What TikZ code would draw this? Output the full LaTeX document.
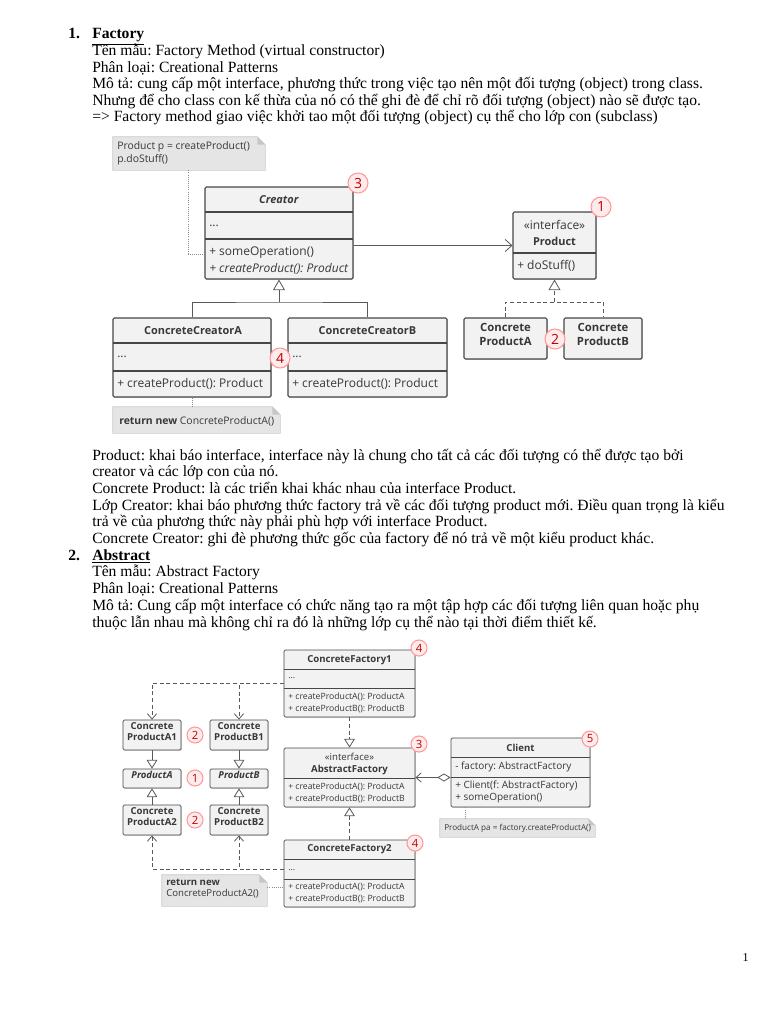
\documentclass[tikz,border=0pt]{standalone}
\usepackage{fontspec}
\setmainfont{Liberation Serif}
\newfontfamily\umlfont{Open Sans}
\usetikzlibrary{arrows.meta, fit, shadows, positioning}
\frenchspacing

\begin{document}
\begin{tikzpicture}[x=0.75pt, y=-0.75pt,
    txt/.style={anchor=base west, inner sep=0pt, font=\fontsize{11.7}{13}\selectfont},
    cls/.style={draw=black!72, fill=black!5, line width=0.8pt, rounded corners=1pt, inner sep=0pt,
        drop shadow={shadow xshift=0.7pt, shadow yshift=-0.7pt, fill=black!30, opacity=0.5}},
    cls2/.style={cls, line width=0.6pt},
    sep/.style={draw=black!72, line width=0.8pt},
    sep2/.style={draw=black!72, line width=0.6pt},
    ua/.style={inner sep=0pt, text=black!78, font=\umlfont\fontsize{9}{11}\selectfont},
    uah/.style={inner sep=0pt, text=black!78, font=\umlfont\fontsize{8.2}{10.5}\selectfont},
    un/.style={inner sep=0pt, text=black!78, font=\umlfont\fontsize{7.8}{10}\selectfont},
    ub/.style={inner sep=0pt, text=black!78, font=\umlfont\fontsize{6.5}{7.5}\selectfont},
    ubh/.style={inner sep=0pt, text=black!78, font=\umlfont\fontsize{7.2}{8}\selectfont},
    uc/.style={inner sep=0pt, text=black!78, font=\umlfont\fontsize{7.5}{8.5}\selectfont},
    notebg/.style={fill=black!10, draw=black!20, line width=0.4pt},
    notefold/.style={fill=black!22},
    nline/.style={draw=black!45, densely dotted, line width=0.6pt},
    dline/.style={draw=black!65, dash pattern=on 3pt off 2pt, line width=0.6pt},
    cline/.style={draw=black!65, line width=0.6pt},
    inh/.style={-{Triangle[open, length=8pt, width=9pt]}},
    inhs/.style={-{Triangle[open, length=6.5pt, width=8pt]}},
    vee/.style={-{Straight Barb[length=4pt, width=7pt]}},
    agg/.style={{Diamond[open, length=10pt, width=6pt]}-{Straight Barb[length=4pt, width=7pt]}},
    badge/.style={circle, draw=red!40, fill=red!8, line width=0.8pt, text=red!75!black, inner sep=0pt,
        minimum size=15pt, font=\umlfont\fontsize{10.5}{10}\selectfont},
    badges/.style={badge, minimum size=12pt, font=\umlfont\fontsize{8.5}{9}\selectfont}
]
\fill[white] (0,0) rectangle (768,1024);
\useasboundingbox (0,0) rectangle (768,1024);

% section 1 text
\node[txt] (num1) at (68,39) {\textbf{1.}};
\node[txt] (head1) at (92,39) {\underline{\textbf{Factory}}};
\foreach \txtline [count=\i from 0] in {{Tên mẫu: Factory Method (virtual constructor)},
    {Phân loại: Creational Patterns},
    {Mô tả: cung cấp một interface, phương thức trong việc tạo nên một đối tượng (object) trong class.},
    {Nhưng để cho class con kế thừa của nó có thể ghi đè để chỉ rõ đối tượng (object) nào sẽ được tạo.},
    {=> Factory method giao việc khởi tao một đối tượng (object) cụ thể cho lớp con (subclass)}}
  \node[txt] (a\i) at (92,55.6+16.6*\i) {\txtline};

% factory method diagram
\node[fit={(113,137) (265,170)}, inner sep=0pt] (noteC) {};
\fill[notebg] (noteC.north west) -- ([xshift=-6pt]noteC.north east) -- ([yshift=-6pt]noteC.north east)
    -- (noteC.south east) -- (noteC.south west) -- cycle;
\fill[notefold] ([xshift=-6pt]noteC.north east) -- ([xshift=-6pt,yshift=-6pt]noteC.north east) -- ([yshift=-6pt]noteC.north east) -- cycle;
\node[un, anchor=north west, align=left] (noteCt) at (117,141) {Product p = createProduct()\\p.doStuff()};

\node[cls, fit={(205,187) (353,279)}] (creator) {};
\draw[sep] (205,212) -- (353,212) (205,239) -- (353,239);
\node[uah] (creatorT) at (279,200) {\textbf{\textit{Creator}}};
\node[ua, anchor=west] (creatorF) at (209,226) {...};
\node[ua, anchor=west] (creatorM1) at (209,253) {+ someOperation()};
\node[ua, anchor=west] (creatorM2) at (209,269) {\textit{+ createProduct(): Product}};

\coordinate (cbend) at (188,254);
\draw[nline] (noteC.south -| cbend) -- (cbend) -- (creator.west |- cbend);

\node[cls, fit={(513,212) (596,279)}] (product) {};
\draw[sep] (513,253) -- (596,253);
\node[ua] (productS) at (554.5,225) {«interface»};
\node[uah] (productT) at (554.5,241) {\textbf{Product}};
\node[ua, anchor=west] (productM) at (517,266) {+ doStuff()};

\draw[cline, -{Straight Barb[length=5pt, width=9pt]}] (creator.east |- product.west) -- (product.west);

\node[cls, fit={(464,318) (547,359)}, align=center, font=\umlfont\fontsize{8.5}{11}\selectfont, text=black!78] (cpA) {\textbf{Concrete}\\\textbf{ProductA}};
\node[cls, fit={(564,318) (642,359)}, align=center, font=\umlfont\fontsize{8.5}{11}\selectfont, text=black!78] (cpB) {\textbf{Concrete}\\\textbf{ProductB}};
\coordinate (jP) at (554.5,302);
\draw[dline] (cpA.north) |- (jP) -| (cpB.north);
\draw[dline, inh] (jP) -- (product.south);

\node[cls, fit={(113,318) (271,397)}] (ccA) {};
\draw[sep] (113,343) -- (271,343) (113,371) -- (271,371);
\node[uah] (ccAT) at (193,330.5) {\textbf{ConcreteCreatorA}};
\node[ua, anchor=west] (ccAF) at (117,357) {...};
\node[ua, anchor=west] (ccAM) at (117,384) {+ createProduct(): Product};

\node[cls, fit={(288,318) (447,397)}] (ccB) {};
\draw[sep] (288,343) -- (447,343) (288,371) -- (447,371);
\node[uah] (ccBT) at (367.5,330.5) {\textbf{ConcreteCreatorB}};
\node[ua, anchor=west] (ccBF) at (292,357) {...};
\node[ua, anchor=west] (ccBM) at (292,384) {+ createProduct(): Product};

\coordinate (jC) at (279,302);
\draw[cline] (ccA.north) |- (jC) -| (ccB.north);
\draw[cline, inh] (jC) -- (creator.south);

\node[fit={(113,407) (280,433)}, inner sep=0pt] (noteR) {};
\fill[notebg] (noteR.north west) -- ([xshift=-6pt]noteR.north east) -- ([yshift=-6pt]noteR.north east)
    -- (noteR.south east) -- (noteR.south west) -- cycle;
\fill[notefold] ([xshift=-6pt]noteR.north east) -- ([xshift=-6pt,yshift=-6pt]noteR.north east) -- ([yshift=-6pt]noteR.north east) -- cycle;
\node[un, anchor=west] (noteRt) at (119,421) {\textbf{return new} ConcreteProductA()};
\draw[nline] (ccA.south) -- (noteR.north -| ccA.south);

\node[badge] (b3) at (358,183) {3};
\node[badge] (b1) at (601,207) {1};
\node[badge] (b2) at (555,339) {2};
\node[badge] (b4) at (280,358) {4};

% section 1 notes and section 2 text
\foreach \txtline [count=\i from 0] in {{Product: khai báo interface, interface này là chung cho tất cả các đối tượng có thể được tạo bởi},
    {creator và các lớp con của nó.},
    {Concrete Product: là các triển khai khác nhau của interface Product.},
    {Lớp Creator: khai báo phương thức factory trả về các đối tượng product mới. Điều quan trọng là kiểu},
    {trả về của phương thức này phải phù hợp với interface Product.},
    {Concrete Creator: ghi đè phương thức gốc của factory để nó trả về một kiểu product khác.}}
  \node[txt] (b\i) at (92,460+16.7*\i) {\txtline};
\node[txt] (num2) at (68,560.2) {\textbf{2.}};
\node[txt] (head2) at (92,560.2) {\underline{\textbf{Abstract}}};
\foreach \txtline [count=\i from 0] in {{Tên mẫu: Abstract Factory},
    {Phân loại: Creational Patterns},
    {Mô tả: Cung cấp một interface có chức năng tạo ra một tập hợp các đối tượng liên quan hoặc phụ},
    {thuộc lẫn nhau mà không chỉ ra đó là những lớp cụ thể nào tại thời điểm thiết kế.}}
  \node[txt] (c\i) at (92,576.9+16.7*\i) {\txtline};

% abstract factory diagram
\node[cls2, fit={(284,650) (415,717)}] (cf1) {};
\draw[sep2] (284,669) -- (415,669) (284,688) -- (415,688);
\node[ubh] (cf1T) at (349.5,660) {\textbf{ConcreteFactory1}};
\node[ub, anchor=west] (cf1F) at (288,678) {...};
\node[ub, anchor=west] (cf1M1) at (288,697) {+ createProductA(): ProductA};
\node[ub, anchor=west] (cf1M2) at (288,709) {+ createProductB(): ProductB};

\node[cls2, fit={(284,748) (415,807)}] (af) {};
\draw[sep2] (284,778) -- (415,778);
\node[ubh] (afS) at (349.5,757) {«interface»};
\node[ubh] (afT) at (349.5,770) {\textbf{AbstractFactory}};
\node[ub, anchor=west] (afM1) at (288,787) {+ createProductA(): ProductA};
\node[ub, anchor=west] (afM2) at (288,799) {+ createProductB(): ProductB};

\node[cls2, fit={(284,840) (415,907)}] (cf2) {};
\draw[sep2] (284,859) -- (415,859) (284,879) -- (415,879);
\node[ubh] (cf2T) at (349.5,849.5) {\textbf{ConcreteFactory2}};
\node[ub, anchor=west] (cf2F) at (288,870) {...};
\node[ub, anchor=west] (cf2M1) at (288,887) {+ createProductA(): ProductA};
\node[ub, anchor=west] (cf2M2) at (288,899) {+ createProductB(): ProductB};

\node[cls2, fit={(451,738) (590,807)}] (client) {};
\draw[sep2] (451,757) -- (590,757) (451,777) -- (590,777);
\node[ubh] (clientT) at (520.5,747.5) {\textbf{Client}};
\node[uc, anchor=west] (clientF) at (455,767) {- factory: AbstractFactory};
\node[uc, anchor=west] (clientM1) at (455,786) {+ Client(f: AbstractFactory)};
\node[uc, anchor=west] (clientM2) at (455,798) {+ someOperation()};

\node[cls2, fit={(123,720) (181,750)}, align=center, font=\umlfont\fontsize{7.2}{8.5}\selectfont, text=black!78] (pA1) {\textbf{Concrete}\\\textbf{ProductA1}};
\node[cls2, fit={(210,720) (268,750)}, align=center, font=\umlfont\fontsize{7.2}{8.5}\selectfont, text=black!78] (pB1) {\textbf{Concrete}\\\textbf{ProductB1}};
\node[cls2, fit={(123,769) (181,788)}, font=\umlfont\fontsize{7.2}{8.5}\selectfont, text=black!78] (pA) {\textbf{\textit{ProductA}}};
\node[cls2, fit={(210,769) (268,788)}, font=\umlfont\fontsize{7.2}{8.5}\selectfont, text=black!78] (pB) {\textbf{\textit{ProductB}}};
\node[cls2, fit={(123,805) (181,835)}, align=center, font=\umlfont\fontsize{7.2}{8.5}\selectfont, text=black!78] (pA2) {\textbf{Concrete}\\\textbf{ProductA2}};
\node[cls2, fit={(210,805) (268,835)}, align=center, font=\umlfont\fontsize{7.2}{8.5}\selectfont, text=black!78] (pB2) {\textbf{Concrete}\\\textbf{ProductB2}};

\draw[cline, inhs] (pA1.south) -- (pA.north);
\draw[cline, inhs] (pB1.south) -- (pB.north);
\draw[cline, inhs] (pA2.north) -- (pA.south);
\draw[cline, inhs] (pB2.north) -- (pB.south);

\draw[dline, vee] (cf1.west |- 0,683) -| (pA1.north);
\draw[dline, vee] (cf1.west |- 0,683) -| (pB1.north);
\draw[dline, vee] (cf2.west |- 0,869) -| (pA2.south);
\draw[dline, vee] (cf2.west |- 0,869) -| (pB2.south);

\draw[dline, inhs] (cf1.south) -- (af.north);
\draw[dline, inhs] (cf2.north) -- (af.south);
\draw[cline, agg] (client.west |- af.east) -- (af.east);

\node[fit={(162,875) (267,906)}, inner sep=0pt] (noteA) {};
\fill[notebg] (noteA.north west) -- ([xshift=-6pt]noteA.north east) -- ([yshift=-6pt]noteA.north east)
    -- (noteA.south east) -- (noteA.south west) -- cycle;
\fill[notefold] ([xshift=-6pt]noteA.north east) -- ([xshift=-6pt,yshift=-6pt]noteA.north east) -- ([yshift=-6pt]noteA.north east) -- cycle;
\node[ubh, anchor=north west, align=left] (noteAt) at (166,879) {\textbf{return new}\\ConcreteProductA2()};
\draw[nline] (noteA.east |- cf2M1) -- (cf2.west |- cf2M1);

\node[fit={(440,819) (595,837)}, inner sep=0pt] (noteP) {};
\fill[notebg] (noteP.north west) -- ([xshift=-5pt]noteP.north east) -- ([yshift=-5pt]noteP.north east)
    -- (noteP.south east) -- (noteP.south west) -- cycle;
\fill[notefold] ([xshift=-5pt]noteP.north east) -- ([xshift=-5pt,yshift=-5pt]noteP.north east) -- ([yshift=-5pt]noteP.north east) -- cycle;
\node[ub, anchor=west, font=\umlfont\fontsize{6.1}{7}\selectfont] (notePt) at (444,828) {ProductA pa = factory.createProductA()};
\draw[nline] (client.south -| 465,0) -- (noteP.north -| 465,0);

\node[badges] (d4) at (419,648) {4};
\node[badges] (d2) at (195,735) {2};
\node[badges] (d1) at (195,778) {1};
\node[badges] (d2b) at (195,820) {2};
\node[badges] (d3) at (419,744) {3};
\node[badges] (d5) at (590,739) {5};
\node[badges] (d4b) at (415,843) {4};

\node[anchor=base east, inner sep=0pt, font=\fontsize{9}{10}\selectfont] (pageno) at (749,961) {1};
\end{tikzpicture}
\end{document}
